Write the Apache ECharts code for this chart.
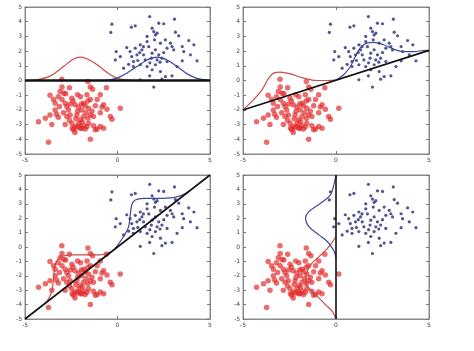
<!DOCTYPE html>
<html><head><meta charset="utf-8">
<script src="https://cdn.jsdelivr.net/npm/echarts@6/dist/echarts.min.js"></script>
<style>html,body{margin:0;padding:0;background:#fff}#c{width:474px;height:351px}</style>
</head><body><div id="c"></div>
<script>
// ---- data ----
const xTickValues = [-5, 0, 5];
const yTickValues = [-5, -4, -3, -2, -1, 0, 1, 2, 3, 4, 5];
const redPoints = [
 [-3.01,0.09],[-1.6,-0.07],[-3.0,-0.45],[-2.6,-0.5],[-3.1,-0.75],[-2.9,-0.86],[-1.47,-0.45],[-1.35,-0.6],
 [-0.6,-0.5],[-3.65,-1.0],[-3.2,-1.1],[-3.0,-1.3],[-3.46,-1.3],[-2.16,-0.97],[-2.0,-1.1],[-1.65,-0.97],
 [-1.47,-1.3],[-0.93,-0.97],[-1.1,-1.3],[-2.4,-1.4],[-1.83,-1.55],[-3.37,-2.0],[-2.74,-1.77],[-2.92,-2.2],
 [-2.56,-2.34],[-2.1,-1.8],[-1.93,-2.0],[-1.75,-1.72],[-1.57,-1.88],[-1.38,-2.1],[-1.2,-1.72],[-0.84,-1.8],
 [-0.75,-1.65],[-0.57,-1.95],[0.15,-1.88],[-3.65,-2.34],[-3.2,-2.5],[-2.74,-2.45],[-2.2,-2.34],[-2.0,-2.67],
 [-1.6,-2.56],[-1.3,-2.45],[-0.93,-2.2],[-0.39,-2.45],[-0.3,-2.63],[-3.9,-2.56],[-4.27,-2.8],[-3.55,-3.0],
 [-2.47,-2.9],[-2.3,-3.13],[-2.0,-3.24],[-1.83,-3.08],[-1.57,-2.9],[-1.3,-3.08],[-1.1,-3.3],[-0.93,-3.13],
 [-0.75,-3.24],[-2.3,-3.54],[-1.47,-4.0],[-3.73,-4.2],[-2.1,-2.9],[-1.93,-3.24],[-2.38,-3.35],[-2.83,-3.0],
 [-2.65,-2.0],[-2.3,-1.65],[-2.47,-1.2],[-1.7,-2.2],[-1.47,-2.34],[-1.83,-2.45],[-1.2,-3.35],[-3.14,-1.77],
 [-3.37,-1.55],[-2.83,-1.55],[-2.2,-3.2],[-2.05,-3.1],[-1.9,-2.8],[-2.15,-2.1],[-1.95,-1.6],[-2.6,-2.7],
 [-1.75,-3.3],[-2.45,-3.25],[-1.6,-1.4],[-2.8,-0.9],[-3.3,-2.3],[-2.25,-2.6],[-1.65,-3.15],[-2.55,-1.6]
];
const bluePoints = [
 [-0.3,3.83],[-0.36,3.27],[0.75,3.63],[0.96,3.72],[1.74,4.35],[2.23,3.9],[2.5,3.86],[3.08,4.17],
 [1.87,3.56],[1.96,3.33],[2.05,3.1],[2.14,3.22],[3.13,3.29],[3.31,3.04],[3.85,2.72],[4.13,2.43],
 [-0.07,1.97],[0.5,2.24],[0.68,1.97],[0.77,1.63],[0.96,2.2],[1.23,2.43],[1.32,2.09],[1.41,1.75],
 [1.1,1.36],[1.6,2.65],[1.69,2.3],[1.87,1.86],[2.05,2.09],[2.23,1.75],[2.14,1.4],[2.4,1.52],
 [2.5,1.9],[2.68,1.29],[2.86,2.54],[2.95,2.31],[3.04,2.09],[3.5,2.31],[3.58,1.97],[3.94,1.75],
 [4.3,1.34],[3.5,1.34],[3.22,0.95],[-0.12,1.4],[0.33,0.84],[0.86,0.95],[1.23,1.07],[1.6,0.95],
 [1.87,0.73],[2.05,1.07],[2.32,0.61],[2.59,0.27],[2.95,0.32],[1.23,0.05],[1.74,0.32],[2.4,0.09],
 [1.96,-0.45],[0.86,1.29],[1.5,1.4],[1.83,1.52],[2.0,2.77],[2.32,2.54],[1.6,3.0],[1.05,1.75],
 [0.15,1.63],[2.68,2.2],[2.59,2.77],[1.2,1.9],[1.75,1.2],[2.3,1.25],[1.4,2.3],[0.6,1.1]
];
// projection lines
const lineTL = [[-5,0],[5,0]];
const lineTR = [[-5,-2],[5,2.05]];
const lineBL = [[-5,-5],[5,5]];
const lineBR = [[0,-5],[0,5]];
// projected density curves
const redCurveTL = [[-5,0],[-4.4,0.05],[-3.65,0.3],[-2.92,0.95],[-2.4,1.45],[-2.0,1.59],[-1.6,1.45],[-1.1,1.07],[-0.39,0.39],[0.15,0.09],[0.9,0],[5,0]];
const blueCurveTL = [[-5,0],[-0.9,0],[-0.39,0.05],[0,0.18],[0.5,0.5],[1.05,0.95],[1.6,1.4],[2.14,1.59],[2.68,1.4],[3.22,0.95],[3.77,0.45],[4.3,0.14],[5,0]];
const redCurveTR = [[-5,-2],[-4.43,-1.3],[-3.98,-0.64],[-3.62,0.16],[-3.35,0.5],[-3.0,0.57],[-2.46,0.45],[-1.74,0.16],[-1.02,0.0],[-0.48,0.0],[0,0.02]];
const blueCurveTR = [[0,0.02],[0.41,0.39],[0.77,0.95],[1.04,1.63],[1.3,2.2],[1.66,2.54],[2.02,2.59],[2.56,2.43],[3.1,2.13],[3.63,1.97],[4.17,1.97],[4.7,2.04],[5,2.05]];
const redCurveBL = [[-3.82,-3.8],[-3.55,-3.08],[-3.46,-2.16],[-3.37,-1.24],[-3.25,-0.89],[-3.0,-0.66],[-2.56,-0.54],[-1.65,-0.54],[-0.93,-0.54],[-0.57,-0.43],[-0.3,-0.3]];
const blueCurveBL = [[-0.12,-0.1],[0.33,0.73],[0.6,1.42],[0.69,2.23],[0.78,2.97],[0.96,3.27],[1.41,3.38],[2.14,3.38],[3.04,3.43],[3.5,3.6],[3.9,3.9]];
const blueCurveBR = [[0,5],[-0.12,4.3],[-0.3,3.6],[-0.83,3.04],[-1.46,2.46],[-1.64,2.0],[-1.46,1.42],[-0.92,0.84],[-0.47,0.38],[-0.2,-0.08],[-0.06,-0.43],[0,-0.77]];
const redCurveBR = [[0,0.73],[-0.3,0.15],[-0.66,-0.36],[-1.0,-0.77],[-1.37,-1.24],[-1.55,-1.7],[-1.64,-2.27],[-1.46,-2.85],[-1.0,-3.43],[-0.57,-4.0],[-0.2,-4.47],[0,-5]];

// ---- layout ----
const gridBoxes = [
  [25, 7, 185, 147],
  [243, 7, 186, 147],
  [25, 175, 185, 144],
  [243, 175, 186, 144]
];
const panels = [
  {line: lineTL, red: redCurveTL, blue: blueCurveTL, lw: 2.4},
  {line: lineTR, red: redCurveTR, blue: blueCurveTR, lw: 1.6},
  {line: lineBL, red: redCurveBL, blue: blueCurveBL, lw: 1.6},
  {line: lineBR, red: redCurveBR, blue: blueCurveBR, lw: 1.6}
];
function mkLabel(show){ return show ? {show:true, margin:3, fontSize:6, color:'#444', fontFamily:'DejaVu Sans'} : {show:false}; }
function mkAxis(i, pos, interval, labels){
  return {type:'value', min:-5, max:5, interval:interval, gridIndex:i, position:pos,
    splitLine:{show:false},
    axisLine:{show:true, onZero:false, lineStyle:{color:'#8a8a8a', width:1}},
    axisTick:{show:true, inside:true, length:3, lineStyle:{color:'#777', width:1}},
    axisLabel:mkLabel(labels)};
}
const grids = [], xAxes = [], yAxes = [], series = [];
gridBoxes.forEach((b, i) => {
  grids.push({left:b[0], top:b[1], width:b[2], height:b[3], show:true, borderColor:'#8a8a8a', borderWidth:1});
  xAxes.push(mkAxis(i, 'bottom', 5, true));
  xAxes.push(mkAxis(i, 'top', 5, false));
  yAxes.push(mkAxis(i, 'left', 1, true));
  yAxes.push(mkAxis(i, 'right', 1, false));
  const xi = i*2, yi = i*2;
  const p = panels[i];
  series.push({type:'scatter', xAxisIndex:xi, yAxisIndex:yi, data:redPoints, symbolSize:5.5,
    itemStyle:{color:'rgba(226,40,40,0.85)'}, z:2});
  series.push({type:'scatter', xAxisIndex:xi, yAxisIndex:yi, data:bluePoints, symbolSize:3.2,
    itemStyle:{color:'#262a78'}, z:2});
  series.push({type:'line', xAxisIndex:xi, yAxisIndex:yi, data:p.red, showSymbol:false, smooth:0.35,
    lineStyle:{color:'#cc4a4a', width:1.2}, z:3});
  series.push({type:'line', xAxisIndex:xi, yAxisIndex:yi, data:p.blue, showSymbol:false, smooth:0.35,
    lineStyle:{color:'#3d4a9c', width:1.2}, z:3});
  series.push({type:'line', xAxisIndex:xi, yAxisIndex:yi, data:p.line, showSymbol:false,
    lineStyle:{color:'#111', width:p.lw}, z:4});
});
const chart = echarts.init(document.getElementById('c'), null, {renderer:'canvas'});
chart.setOption({animation:false, backgroundColor:'#fff', grid:grids, xAxis:xAxes, yAxis:yAxes, series:series});
</script></body></html>
